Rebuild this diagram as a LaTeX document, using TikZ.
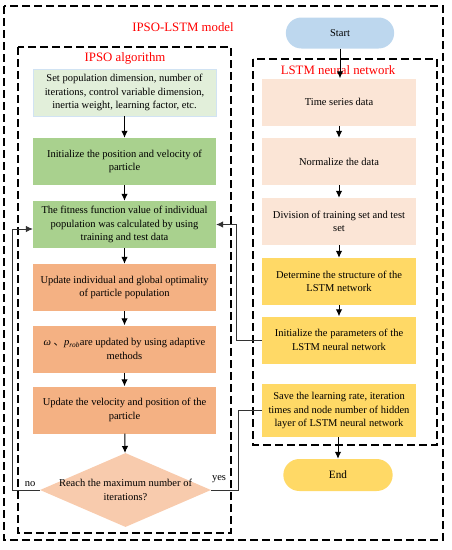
\documentclass[tikz,border=0pt]{standalone}
\usepackage{fontspec}
\setmainfont{Liberation Serif}
\usetikzlibrary{shapes,arrows,positioning,calc,arrows.meta}

\definecolor{setgreen}{HTML}{E2EFDA}
\definecolor{psogreen}{HTML}{A9D18E}
\definecolor{psoorange}{HTML}{F4B183}
\definecolor{decorange}{HTML}{F8CBAD}
\definecolor{lstmpeach}{HTML}{FBE5D6}
\definecolor{lstmyellow}{HTML}{FFD966}
\definecolor{startblue}{HTML}{BDD7EE}

\tikzset{
  frame/.style={draw, dash pattern=on 8pt off 4pt, line width=1.1pt},
  title/.style={text=red, font=\fontsize{12.8}{15}\selectfont},
  lbox/.style={rectangle, minimum width=183pt, minimum height=47pt, align=center,
    inner sep=2pt, font=\fontsize{10.5}{13.5}\selectfont},
  rbox/.style={lbox, minimum width=154pt},
  term/.style={rounded rectangle, minimum width=115pt, minimum height=31pt},
  flow/.style={-{Latex[length=7pt,width=6.5pt]}, line width=1pt},
  back/.style={line width=0.8pt, draw=black!80}
}

\begin{document}
\begin{tikzpicture}[x=1pt, y=-1pt]
  \useasboundingbox (0,0) rectangle (452,550);

  % frames
  \draw[frame] (4,6) rectangle (443,540);
  \draw[frame] (18,47) rectangle (231,533);
  \draw[frame] (253,59) rectangle (437,445);
  \node[title] (mdl) at (183,27) {IPSO-LSTM model};
  \node[title] (pso) at (125,58) {IPSO algorithm};
  \node[title] (net) at (338,70) {LSTM neural network};

  % IPSO algorithm
  \node[lbox, fill=setgreen, draw=startblue!70] (set) at (124.5,92.5)
    {Set population dimension, number of\\iterations, control variable dimension,\\inertia weight, learning factor, etc.};
  \node[lbox, fill=psogreen] (ini) at (124.5,161.5)
    {Initialize the position and velocity of\\particle};
  \node[lbox, fill=psogreen] (fit) at (124.5,224.5)
    {The fitness function value of individual\\population was calculated by using\\training and test data};
  \node[lbox, fill=psoorange] (opt) at (124.5,287.5)
    {Update individual and global optimality\\of particle population};
  \node[lbox, fill=psoorange] (adp) at (124.5,349)
    {\textit{ω} {\fontspec{Noto Sans CJK SC}、}\textit{p}\textsubscript{\textit{rob}}are updated by using adaptive\\methods};
  \node[lbox, fill=psoorange] (vel) at (124.5,410)
    {Update the velocity and position of the\\particle};
  \node[diamond, fill=decorange, minimum width=171pt, minimum height=74pt, inner sep=0pt,
    label={[align=center, font=\fontsize{10.5}{13.5}\selectfont]center:Reach the maximum number of\\iterations?}] (chk) at (125.5,490) {};
  \node[font=\fontsize{10.5}{12}\selectfont] (no) at (30,484) {no};
  \node[font=\fontsize{10.5}{12}\selectfont] (yes) at (219,479) {yes};

  % LSTM neural network
  \node[term, fill=startblue, font=\fontsize{10.5}{12}\selectfont] (start) at (340,33) {Start};
  \node[rbox, fill=lstmpeach] (tsd) at (339,102) {Time series data};
  \node[rbox, fill=lstmpeach] (nrm) at (339,161.5) {Normalize the data};
  \node[rbox, fill=lstmpeach] (div) at (339,221.5) {Division of training set and test\\set};
  \node[rbox, fill=lstmyellow] (str) at (339,281.5) {Determine the structure of the\\LSTM network};
  \node[rbox, fill=lstmyellow] (prm) at (339,340) {Initialize the parameters of the\\LSTM neural network};
  \node[rbox, fill=lstmyellow, minimum height=53pt] (save) at (339,410.5)
    {Save the learning rate, iteration\\times and node number of hidden\\layer of LSTM neural network};
  \node[term, fill=lstmyellow, minimum width=116pt, minimum height=32pt,
    font=\fontsize{11.2}{13}\selectfont] (end) at (338,475) {End};

  \draw[flow] (set) -- (ini);
  \draw[flow] (ini) -- (fit);
  \draw[flow] (fit) -- (opt);
  \draw[flow] (opt) -- (adp);
  \draw[flow] (adp) -- (vel);
  \draw[flow] (vel) -- (chk);

  \draw[flow] (start.south) -- (start.south |- tsd.north);
  \draw[flow] (tsd) -- (nrm);
  \draw[flow] (nrm) -- (div);
  \draw[flow] (div) -- (str);
  \draw[flow] (str) -- (prm);
  \draw[flow] (save.south -| end.north) -- (end.north);

  % feedback lines
  \coordinate (noc) at (12,490);
  \coordinate (prc) at (236,340);
  \coordinate (yesc) at (238,490);
  \draw[back, -{Latex[length=7pt,width=6.5pt]}] (chk.west) -- (noc) |- ([yshift=-4.5pt]fit.west);
  \draw[back, -{Latex[length=7pt,width=6.5pt]}] (prm.west) -- (prc) |- (fit.east);
  \draw[back] (chk.east) -- (yesc) |- (save.west);
\end{tikzpicture}
\end{document}
